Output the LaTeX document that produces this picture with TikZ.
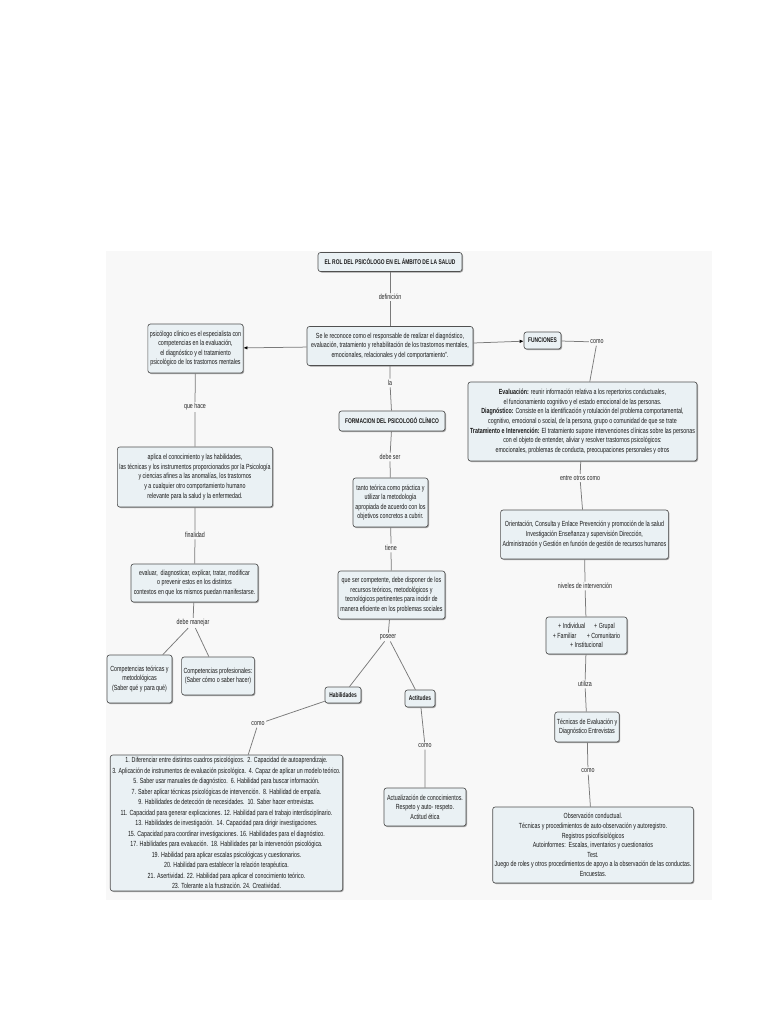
\documentclass[tikz,border=0pt]{standalone}
\usepackage{fontspec}
\setmainfont{Liberation Sans}[FakeStretch=0.72]
\usetikzlibrary{shadows,arrows.meta}
\definecolor{boxfill}{HTML}{EAF1F4}
\definecolor{boxline}{HTML}{505050}
\definecolor{wirecol}{HTML}{7A7A7A}
\definecolor{paper}{HTML}{F8F8F8}

\begin{document}
\begin{tikzpicture}[x=1pt, y=-1pt, font=\fontsize{7.4}{9.6}\selectfont, text=black!90,
  box/.style={draw=boxline, fill=boxfill, rounded corners=2.5pt, line width=0.65pt, align=center,
    inner sep=2pt, drop shadow={shadow xshift=1pt, shadow yshift=-1pt, fill=black!60, opacity=0.6}},
  head/.style={box, font=\fontsize{6.8}{8}\selectfont\bfseries},
  lbl/.style={inner sep=1.5pt, text=black!85},
  wire/.style={draw=wirecol, line width=0.75pt},
  tip/.style={-{Latex[length=4pt, width=3.5pt, color=black]}}]
\useasboundingbox (0,0) rectangle (768,1024);
\fill[paper] (106,251) rectangle (712,900);
% centre column
\node[head, minimum width=144pt, minimum height=19pt] (rol) at (390,262) {EL ROL DEL PSICÓLOGO EN EL ÁMBITO DE LA SALUD};
\node[lbl] (lDef) at (390,297) {definición};
\node[box, minimum width=166pt, minimum height=39pt] (def) at (390,346)
  {Se le reconoce como el responsable de realizar el diagnóstico,\\evaluación, tratamiento y rehabilitación de los trastornos mentales,\\emocionales, relacionales y del comportamiento”.};
\node[lbl] (lLa) at (390,383) {la};
\node[head, minimum width=106pt, minimum height=20pt] (form) at (392,421) {FORMACION DEL PSICOLOGÓ CLÍNICO};
\node[lbl] (lDebe) at (390,457) {debe ser};
\node[box, minimum width=75pt, minimum height=49pt] (teo) at (390.5,502.5)
  {tanto teórica como práctica y\\utilizar la metodología\\apropiada de acuerdo con los\\objetivos concretos a cubrir.};
\node[lbl] (lTiene) at (391,548) {tiene};
\node[box, minimum width=107pt, minimum height=48pt] (comp) at (391.5,595)
  {que ser competente, debe disponer de los\\recursos teóricos, metodológicos y\\tecnológicos pertinentes para incidir de\\manera eficiente en los problemas sociales};
\node[lbl] (lPos) at (388,637) {poseer};
\node[head, minimum width=36pt, minimum height=16pt] (hab) at (343,695) {Habilidades};
\node[head, minimum width=30pt, minimum height=17pt] (act) at (420,698.5) {Actitudes};
\node[lbl] (lComoH) at (258,724) {como};
\node[box, minimum width=231pt, minimum height=136pt, font=\fontsize{7.4}{10.5}\selectfont] (lista) at (226.5,823)
  {1. Diferenciar entre distintos cuadros psicológicos.\ \ 2. Capacidad de autoaprendizaje.\\
   3. Aplicación de instrumentos de evaluación psicológica.\ \ 4. Capaz de aplicar un modelo teórico.\\
   5. Saber usar manuales de diagnóstico.\ \ 6. Habilidad para buscar información.\\
   7. Saber aplicar técnicas psicológicas de intervención.\ \ 8. Habilidad de empatía.\\
   9. Habilidades de detección de necesidades.\ \ 10. Saber hacer entrevistas.\\
   11. Capacidad para generar explicaciones. 12. Habilidad para el trabajo interdisciplinario.\\
   13. Habilidades de investigación.\ \ 14. Capacidad para dirigir investigaciones.\\
   15. Capacidad para coordinar investigaciones. 16. Habilidades para el diagnóstico.\\
   17. Habilidades para evaluación.\ \ 18. Habilidades par la intervención psicológica.\\
   19. Habilidad para aplicar escalas psicológicas y cuestionarios.\\
   20. Habilidad para establecer la relación terapéutica.\\
   21. Asertividad. 22. Habilidad para aplicar el conocimiento teórico.\\
   23. Tolerante a la frustración. 24. Creatividad.};
\node[lbl] (lComoA) at (425,746) {como};
\node[box, minimum width=82pt, minimum height=38pt] (actu) at (425,807)
  {Actualización de conocimientos.\\Respeto y auto- respeto.\\Actitud ética};
% left column
\node[box, minimum width=95pt, minimum height=49pt] (clin) at (195.5,348.5)
  {psicólogo clínico es el especialista con\\competencias en la evaluación,\\el diagnóstico y el tratamiento\\psicológico de los trastornos mentales};
\node[lbl] (lHace) at (195,407) {que hace};
\node[box, minimum width=154pt, minimum height=60pt] (apl) at (195,477)
  {aplica el conocimiento y las habilidades,\\las técnicas y los instrumentos proporcionados por la Psicología\\y ciencias afines a las anomalías, los trastornos\\y a cualquier otro comportamiento humano\\relevante para la salud y la enfermedad.};
\node[lbl] (lFin) at (195,535) {finalidad};
\node[box, minimum width=127pt, minimum height=38pt] (fin) at (194.5,583)
  {evaluar,\ \ diagnosticar, explicar, tratar, modificar\\o prevenir estos en los distintos\\contextos en que los mismos puedan manifestarse.};
\node[lbl] (lMan) at (193,623) {debe manejar};
\node[box, minimum width=65pt, minimum height=48pt] (ct) at (139.5,679)
  {Competencias teóricas y\\metodológicas\\(Saber qué y para qué)};
\node[box, minimum width=72pt, minimum height=38pt] (cp) at (218,676)
  {Competencias profesionales:\\(Saber cómo o saber hacer)};
% right column
\node[head, minimum width=37pt, minimum height=17pt] (fun) at (542.5,340.5) {FUNCIONES};
\node[lbl] (lComoF) at (597,342) {como};
\node[box, minimum width=229pt, minimum height=79pt] (eval) at (582.5,421.5)
  {\textbf{Evaluación:} reunir información relativa a los repertorios conductuales,\\
   el funcionamiento cognitivo y el estado emocional de las personas.\\
   \textbf{Diagnóstico:} Consiste en la identificación y rotulación del problema comportamental,\\
   cognitivo, emocional o social, de la persona, grupo o comunidad de que se trate\\
   \textbf{Tratamiento e Intervención:} El tratamiento supone intervenciones clínicas sobre las personas\\
   con el objeto de entender, aliviar y resolver trastornos psicológicos:\\
   emocionales, problemas de conducta, preocupaciones personales y otros};
\node[lbl] (lEntre) at (580,478) {entre otros como};
\node[box, minimum width=167pt, minimum height=49pt] (ori) at (584.5,534.5)
  {Orientación, Consulta y Enlace Prevención y promoción de la salud\\Investigación Enseñanza y supervisión Dirección,\\Administración y Gestión en función de gestión de recursos humanos};
\node[lbl] (lNiv) at (585,586) {niveles de intervención};
\node[box, minimum width=81pt, minimum height=37pt] (niv) at (586.5,635.5)
  {+ Individual\quad\ + Grupal\\+ Familiar\quad\ \ + Comunitario\\+ Institucional};
\node[lbl] (lUti) at (585,684) {utiliza};
\node[box, minimum width=64pt, minimum height=30pt] (tec) at (587,727)
  {Técnicas de Evaluación y\\Diagnóstico Entrevistas};
\node[lbl] (lComoT) at (588,771) {como};
\node[box, minimum width=198pt, minimum height=76pt] (obs) at (593,845)
  {Observación conductual.\\Técnicas y procedimientos de auto-observación y autoregistro.\\Registros psicofisiológicos\\Autoinformes:\ \ Escalas, inventarios y cuestionarios\\Test.\\Juego de roles y otros procedimientos de apoyo a la observación de las conductas.\\Encuestas.};
% connectors
\draw[wire] (rol) -- (lDef) -- (def);
\draw[wire, tip] (def) -- (clin);
\draw[wire, tip] (def) -- (fun);
\draw[wire] (fun) -- (lComoF) -- (eval);
\draw[wire] (def) -- (lLa) -- (form);
\draw[wire] (form) -- (lDebe) -- (teo);
\draw[wire] (teo) -- (lTiene) -- (comp);
\draw[wire] (comp) -- (lPos);
\draw[wire] (lPos) -- (hab);
\draw[wire] (lPos) -- (act);
\draw[wire] (hab) -- (lComoH) -- (lista);
\draw[wire] (act) -- (lComoA) -- (actu);
\draw[wire] (clin) -- (lHace) -- (apl);
\draw[wire] (apl) -- (lFin) -- (fin);
\draw[wire] (fin) -- (lMan);
\draw[wire] (lMan) -- (ct);
\draw[wire] (lMan) -- (cp);
\draw[wire] (eval) -- (lEntre) -- (ori);
\draw[wire] (ori) -- (lNiv) -- (niv);
\draw[wire] (niv) -- (lUti) -- (tec);
\draw[wire] (tec) -- (lComoT) -- (obs);
\end{tikzpicture}
\end{document}
